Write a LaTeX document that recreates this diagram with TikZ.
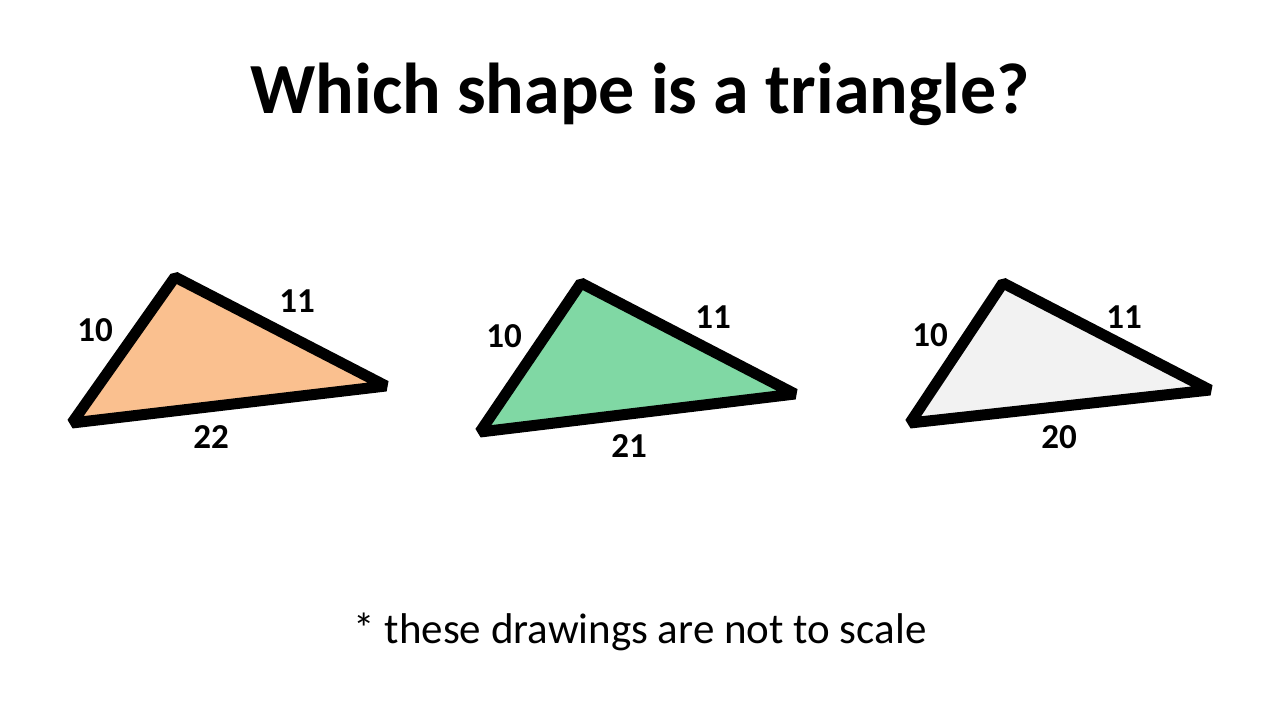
\documentclass[tikz,border=0pt]{standalone}
\usepackage{fontspec}
\setmainfont{Carlito}
\definecolor{tOrange}{RGB}{250,192,143}
\definecolor{tGreen}{RGB}{128,216,164}
\definecolor{tGray}{RGB}{242,242,242}
\tikzset{
  tri/.style={draw=black, line width=11pt, line join=bevel},
  sidelbl/.style={font=\bfseries\fontsize{35}{38}\selectfont, inner sep=0pt},
}
\begin{document}
\begin{tikzpicture}[x=1pt,y=-1pt]
\useasboundingbox[fill=white] (0,0) rectangle (1280,720);
\node[font=\bfseries\fontsize{72}{76}\selectfont, inner sep=0pt, anchor=base] (title) at (640,113) {Which shape is a triangle?};
% triangle 1
\coordinate (a1) at (72,423);
\coordinate (b1) at (175,277);
\coordinate (c1) at (386,386);
\draw[tri, fill=tOrange] (a1) -- (b1) -- (c1) -- cycle;
\node[sidelbl] (l1a) at (95,330) {10};
\node[sidelbl] (l1b) at (297,301) {11};
\node[sidelbl] (l1c) at (211,437) {22};
% triangle 2
\coordinate (a2) at (480,432);
\coordinate (b2) at (581,283);
\coordinate (c2) at (795,394);
\draw[tri, fill=tGreen] (a2) -- (b2) -- (c2) -- cycle;
\node[sidelbl] (l2a) at (504,336) {10};
\node[sidelbl] (l2b) at (713,317) {11};
\node[sidelbl] (l2c) at (629,446) {21};
% triangle 3
\coordinate (a3) at (910,423);
\coordinate (b3) at (1003,283);
\coordinate (c3) at (1210,390);
\draw[tri, fill=tGray] (a3) -- (b3) -- (c3) -- cycle;
\node[sidelbl] (l3a) at (930,335) {10};
\node[sidelbl] (l3b) at (1124,317) {11};
\node[sidelbl] (l3c) at (1059,437) {20};
\node[font=\fontsize{43}{46}\selectfont, inner sep=0pt, anchor=base] (note) at (640,643) {* these drawings are not to scale};
\end{tikzpicture}
\end{document}
